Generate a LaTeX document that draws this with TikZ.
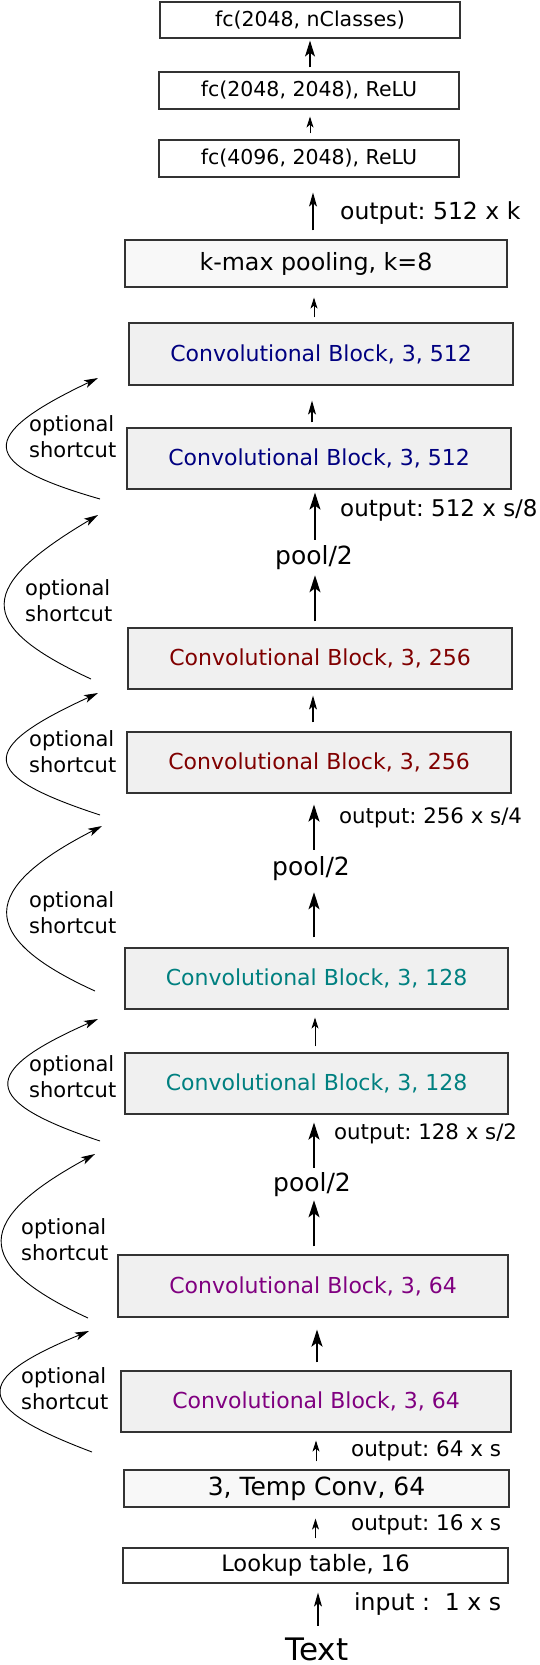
\documentclass[tikz,border=0pt]{standalone}
\usepackage{fontspec}
\setmainfont{DejaVu Sans}
\usetikzlibrary{arrows.meta,calc}
\definecolor{cnavy}{HTML}{000080}
\definecolor{cmaroon}{HTML}{800000}
\definecolor{cteal}{HTML}{008080}
\definecolor{cpurple}{HTML}{800080}
\definecolor{boxline}{HTML}{333333}
\definecolor{convfill}{HTML}{F0F0F0}
\definecolor{lightfill}{HTML}{F8F8F8}
\tikzset{
  box/.style={draw=boxline, line width=1.2pt, inner sep=0pt, rectangle},
  fcbox/.style={box, fill=white, minimum width=300pt, minimum height=37pt, font=\fontsize{20.5}{24}\selectfont},
  convbox/.style={box, fill=convfill, minimum height=61pt, font=\fontsize{22}{26}\selectfont},
  bigbox/.style={box, fill=lightfill, font=\fontsize{24}{28}\selectfont},
  lbl/.style={inner sep=0pt, anchor=west},
  poollbl/.style={inner sep=0pt, font=\fontsize{25}{29}\selectfont},
  shortlbl/.style={inner sep=0pt, anchor=west, align=left, font=\fontsize{21}{26}\selectfont},
  arrS/.style={line width=0.9pt, -{Stealth[length=11pt, width=7pt, inset=3pt]}},
  arrM/.style={line width=1.1pt, -{Stealth[length=14pt, width=8pt, inset=3.5pt]}},
  arrL/.style={line width=1.6pt, -{Stealth[length=17pt, width=11pt, inset=4pt]}},
  arrC/.style={line width=0.9pt, -{Stealth[length=14pt, width=8pt, inset=3.5pt]}},
}
\newcommand\conn[6]{\draw[#1, shorten <=#5pt, shorten >=#6pt] ($(#2.north)+(#4,0)$) -- ($(#2.north |- #3.south)+(#4,0)$);}
\frenchspacing
\begin{document}
\frenchspacing
\begin{tikzpicture}[x=1pt, y=-1pt]
\useasboundingbox (0,0) rectangle (539,1665);
% boxes
\node[fcbox, minimum height=36pt] (B1) at (310,20) {fc(2048, nClasses)};
\node[fcbox] (B2) at (309,90.5) {fc(2048, 2048), ReLU};
\node[fcbox] (B3) at (309,158.5) {fc(4096, 2048), ReLU};
\node[bigbox, minimum width=382pt, minimum height=47pt, font=\fontsize{23.75}{28}\selectfont] (B4) at (316,263.5) {k-max pooling, k=8};
\node[convbox, minimum width=384pt, minimum height=62pt, text=cnavy] (B5) at (321,354) {Convolutional Block, 3, 512};
\node[convbox, minimum width=384pt, text=cnavy] (B6) at (319,458.5) {Convolutional Block, 3, 512};
\node[convbox, minimum width=384pt, text=cmaroon] (B7) at (320,658.5) {Convolutional Block, 3, 256};
\node[convbox, minimum width=384pt, text=cmaroon] (B8) at (319,762.5) {Convolutional Block, 3, 256};
\node[convbox, minimum width=383pt, text=cteal] (B9) at (316.5,978.5) {Convolutional Block, 3, 128};
\node[convbox, minimum width=383pt, text=cteal] (B10) at (316.5,1083.5) {Convolutional Block, 3, 128};
\node[convbox, minimum width=390pt, minimum height=62pt, text=cpurple] (B11) at (313,1286) {Convolutional Block, 3, 64};
\node[convbox, minimum width=390pt, text=cpurple] (B12) at (316,1401.5) {Convolutional Block, 3, 64};
\node[bigbox, minimum width=385pt, minimum height=37pt, font=\fontsize{25}{29}\selectfont] (B13) at (316.5,1488.5) {3, Temp Conv, 64};
\node[box, fill=white, minimum width=385pt, minimum height=35pt, font=\fontsize{22.6}{26}\selectfont] (B14) at (315.5,1565.5) {Lookup table, 16};
\node[inner sep=0pt, font=\fontsize{31}{36}\selectfont] (T) at (317,1649) {Text};
% pool labels
\node[poollbl] (P1) at (314,558) {pool/2};
\node[poollbl] (P2) at (311,869) {pool/2};
\node[poollbl] (P3) at (312,1185) {pool/2};
% output labels
\node[lbl, font=\fontsize{23.5}{28}\selectfont] (O1) at (340,213) {output: 512 x k};
\node[lbl, font=\fontsize{23}{28}\selectfont] (O2) at (340,510) {output: 512 x s/8};
\node[lbl, font=\fontsize{21.3}{26}\selectfont] (O3) at (339,817.5) {output: 256 x s/4};
\node[lbl, font=\fontsize{21.3}{26}\selectfont] (O4) at (334,1133.5) {output: 128 x s/2};
\node[lbl, font=\fontsize{21.5}{26}\selectfont] (O5) at (351,1450.5) {output: 64 x s};
\node[lbl, font=\fontsize{21.5}{26}\selectfont] (O6) at (351,1525) {output: 16 x s};
\node[lbl, font=\fontsize{23.5}{28}\selectfont] (O7) at (354,1604) {input :\ \ 1 x s};
% vertical arrows
\conn{arrS}{B3}{B2}{1}{6}{7}
\draw[line width=1.1pt, -{Stealth[length=16pt, width=10pt, inset=4pt]}, shorten <=4pt, shorten >=2pt] ($(B2.north)+(1,0)$) -- ($(B2.north |- B1.south)+(1,0)$);
\conn{arrM}{B4}{B3}{-3}{9}{15}
\conn{arrS}{B5}{B4}{-7}{5}{10}
\conn{arrM}{B6}{B5}{-7}{5}{15}
\conn{arrL}{P1}{B6}{1}{6}{3}
\conn{arrL}{B7}{P1}{-5}{6}{5}
\conn{arrM}{B8}{B7}{-6}{9}{6}
\conn{arrL}{P2}{B8}{3}{7}{11}
\conn{arrL}{B9}{P2}{-2.5}{10}{11}
\conn{arrS}{B10}{B9}{-1.5}{6}{8}
\conn{arrL}{P3}{B10}{2}{5}{8}
\conn{arrL}{B11}{P3}{1}{8}{3}
\conn{arrL}{B12}{B11}{1}{8}{12}
\conn{arrS}{B13}{B12}{-0.5}{8}{8}
\conn{arrS}{B14}{B13}{0}{9}{11}
\conn{arrM}{T}{B14}{1}{11.7}{9}
% shortcut curves
\coordinate (s1t) at (100,499); \coordinate (s1h) at (98,378);
\coordinate (s2t) at (91,679);  \coordinate (s2h) at (98,515);
\coordinate (s3t) at (100,815); \coordinate (s3h) at (98,693);
\coordinate (s4t) at (95,991);  \coordinate (s4h) at (102,826);
\coordinate (s5t) at (100,1141); \coordinate (s5h) at (98,1019);
\coordinate (s6t) at (88,1318); \coordinate (s6h) at (95,1154);
\coordinate (s7t) at (92,1452); \coordinate (s7h) at (89,1331);
\draw[arrC] (s1t) .. controls +(-122,-35) and +(-122,58) .. (s1h);
\draw[arrC] (s2t) .. controls +(-119,-55) and +(-119,71) .. (s2h);
\draw[arrC] (s3t) .. controls +(-122,-40) and +(-122,56) .. (s3h);
\draw[arrC] (s4t) .. controls +(-121,-55) and +(-121,62) .. (s4h);
\draw[arrC] (s5t) .. controls +(-120,-40) and +(-120,53) .. (s5h);
\draw[arrC] (s6t) .. controls +(-119,-55) and +(-119,65) .. (s6h);
\draw[arrC] (s7t) .. controls +(-119,-45) and +(-119,49) .. (s7h);
% shortcut labels
\node[shortlbl] (L1) at (29,437) {optional\\shortcut};
\node[shortlbl] (L2) at (25,600.5) {optional\\shortcut};
\node[shortlbl] (L3) at (29,752) {optional\\shortcut};
\node[shortlbl] (L4) at (29,912.5) {optional\\shortcut};
\node[shortlbl] (L5) at (29,1077) {optional\\shortcut};
\node[shortlbl] (L6) at (21,1240) {optional\\shortcut};
\node[shortlbl] (L7) at (21,1389) {optional\\shortcut};
\end{tikzpicture}
\end{document}
